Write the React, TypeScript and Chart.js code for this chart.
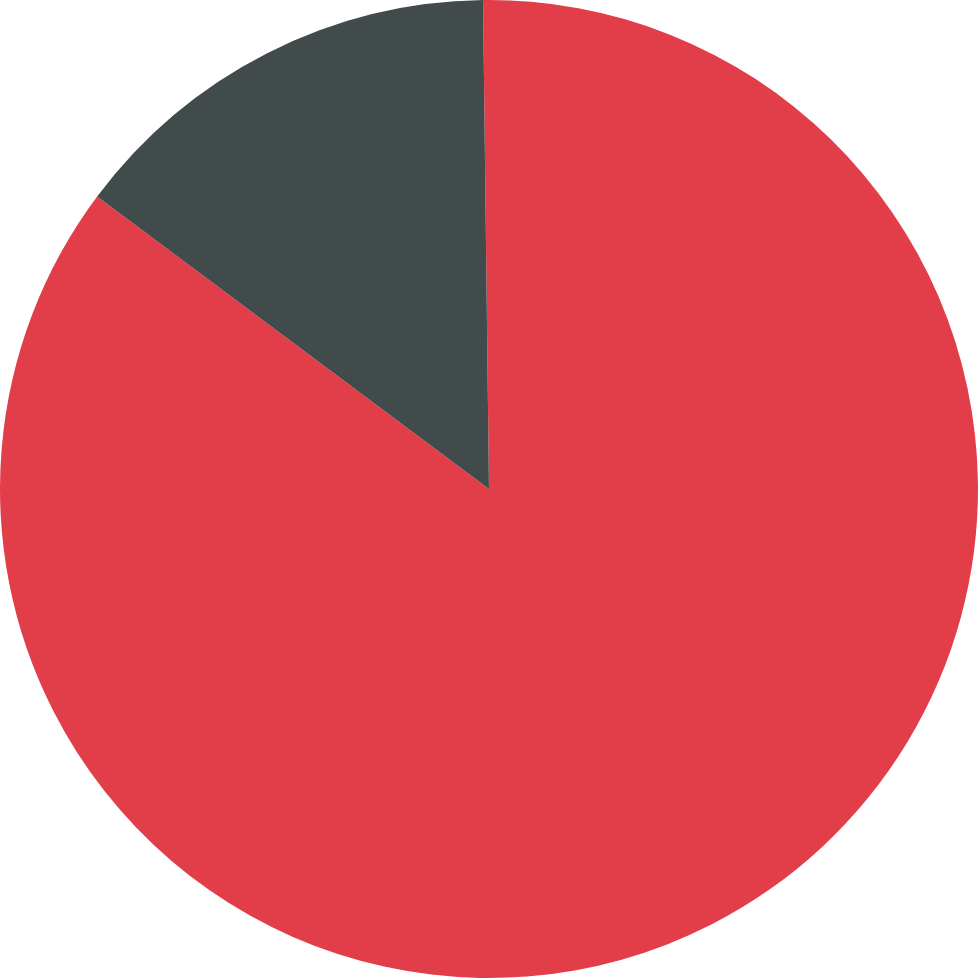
import React, { useEffect, useRef } from "react";
import { Chart, registerables } from "chart.js";

Chart.register(...registerables);

const categories: string[] = ["Red", "Dark"];
const values: number[] = [85.4, 14.6];
const colors: string[] = ["#E13E4A", "#424B4B"];

export default function App() {
  const ref = useRef<HTMLCanvasElement | null>(null);
  useEffect(() => {
    if (!ref.current) return;
    const chart = new Chart(ref.current, {
      type: "pie",
      data: {
        labels: categories,
        datasets: [
          {
            data: values,
            backgroundColor: colors,
            borderWidth: 0,
            hoverOffset: 0,
          },
        ],
      },
      options: {
        responsive: false,
        animation: false,
        rotation: -0.7,
        layout: { padding: { left: 0, top: 0, right: 2, bottom: 2 } },
        plugins: {
          legend: { display: false },
          tooltip: { enabled: false },
          title: { display: false },
        },
      },
    });
    return () => chart.destroy();
  }, []);
  return (
    <div style={{ position: "fixed", left: 0, top: 0, width: 980, height: 980, background: "#fff" }}>
      <canvas ref={ref} width={980} height={980} style={{ display: "block", width: 980, height: 980 }} />
    </div>
  );
}
